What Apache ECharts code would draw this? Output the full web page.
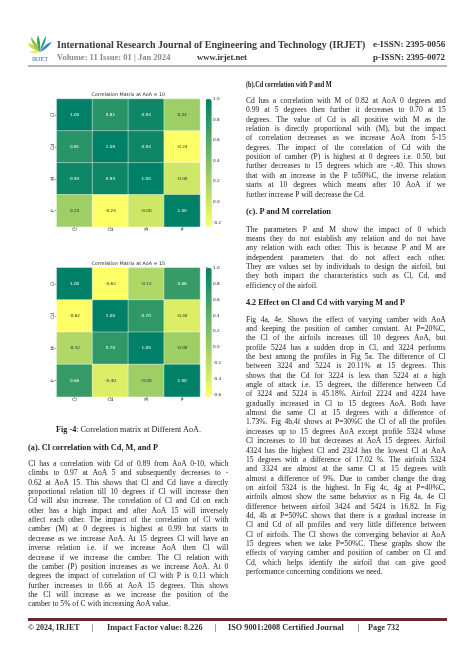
<!DOCTYPE html>
<html>
<head>
<meta charset="utf-8">
<script src="https://cdn.jsdelivr.net/npm/echarts@6/dist/echarts.min.js"></script>
<style>
html,body{margin:0;padding:0;background:#fff;}
#page{position:relative;width:474px;height:670px;overflow:hidden;background:#fff;}
#main{position:absolute;left:0;top:0;width:474px;height:670px;}
.t{position:absolute;font-family:'Liberation Serif',serif;font-size:7.6px;line-height:9.35px;color:#1c1c1c;white-space:nowrap;transform-origin:0 50%;}
.b{font-weight:bold;}
.hd{font-size:8px;}
#rule{position:absolute;left:28px;top:65px;width:419px;height:1.6px;background:#b4b4b4;}
#foot{position:absolute;left:28px;top:618px;width:419px;height:2.6px;background:#6e2431;}
#logo{position:absolute;left:27px;top:33px;}
</style>
</head>
<body>
<div id="page">
  <div id="main"></div>
  <svg id="logo" width="27" height="29" viewBox="0 0 27 29">
    <path d="M13 19 C 6 17, 2 13, 1 10 C 5 11, 10 14, 13 19 Z" fill="#c7d63a"/>
    <path d="M13 19 C 7 14, 4 9, 4 4 C 8 8, 11 13, 13 19 Z" fill="#8cc04a"/>
    <path d="M13 19 C 10 13, 9 7, 11 2 C 13 7, 14 13, 13 19 Z" fill="#3fa55a"/>
    <path d="M13 19 C 14 13, 16 7, 19 3 C 19 9, 16 14, 13 19 Z" fill="#2b9a8c"/>
    <path d="M13 19 C 16 14, 20 10, 25 9 C 22 13, 18 17, 13 19 Z" fill="#3a7fc2"/>
    <path d="M13 19 C 9 18, 5 18, 2 19 C 6 20, 10 20, 13 19 Z" fill="#e3d93a"/>
    <text x="13" y="27.5" text-anchor="middle" font-family="Liberation Serif" font-size="6.2" fill="#2f6fb5">IRJET</text>
  </svg>
  <div id="rule"></div>
  <div id="foot"></div>
</div>
<script>
// data
var cats = ['Cl', 'Cd', 'M', 'P'];
var corrAoA10 = [
  [1.00, 0.81, 0.93, 0.23],
  [0.81, 1.00, 0.93, -0.24],
  [0.93, 0.93, 1.00, -0.004],
  [0.23, -0.24, -0.004, 1.00]
];
var corrAoA15 = [
  [1.00, -0.62, -0.12, 0.66],
  [-0.62, 1.00, 0.70, -0.40],
  [-0.12, 0.70, 1.00, -0.004],
  [0.66, -0.40, -0.004, 1.00]
];
var cbTicks10 = [-0.2, 0, 0.2, 0.4, 0.6, 0.8, 1.0];
var cbTicks15 = [-0.6, -0.4, -0.2, 0, 0.2, 0.4, 0.6, 0.8, 1.0];
var chartTitles = ['Correlation Matrix at AoA = 10', 'Correlation Matrix at AoA = 15'];

var page = document.getElementById('page');

// place one line of text, stretch/shrink to the given width
function putText(txt, x, y, w, cls, justify) {
  var d = document.createElement('div');
  d.className = 't' + (cls ? ' ' + cls : '');
  d.textContent = txt;
  d.style.left = x + 'px';
  d.style.top = (y - 4.675) + 'px';
  page.appendChild(d);
  var nat = d.getBoundingClientRect().width;
  if (!w) return d;
  var n = (txt.match(/ /g) || []).length;
  if (nat > w) {
    d.style.transform = 'scaleX(' + (w / nat) + ')';
  } else if (justify && n > 0) {
    d.style.wordSpacing = ((w - nat) / n) + 'px';
  }
  return d;
}
function fitText(txt, x0, x1, y, cls, size) {
  var d = putText(txt, x0, y, 0, cls);
  if (size) d.style.fontSize = size + 'px';
  var nat = d.getBoundingClientRect().width;
  d.style.transform = 'scaleX(' + ((x1 - x0) / nat) + ')';
  return d;
}
function para(lines, x, y0, w) {
  for (var i = 0; i < lines.length; i++) {
    putText(lines[i], x, y0 + i * 9.35, w, '', i < lines.length - 1);
  }
}

// header
fitText('International Research Journal of Engineering and Technology (IRJET)', 57.3, 365.7, 44.3, 'b', 9.6).style.color = '#3a3a3a';
fitText('e-ISSN: 2395-0056', 372.7, 445, 44.3, 'b', 8).style.color = '#333';
var vol = fitText('Volume: 11 Issue: 01 | Jan 2024', 57.3, 170.7, 57.3, 'b', 7.8);
vol.style.color = '#8a8a8a';
fitText('www.irjet.net', 196.7, 246.7, 57.3, 'b', 7.8).style.color = '#333';
fitText('p-ISSN: 2395-0072', 373, 445, 57.3, 'b', 8).style.color = '#333';

// right column
fitText('(b).Cd correlation with P and M', 246, 331.7, 84.3, 'b hd');
para([
  'Cd has a correlation with M of 0.82 at AoA 0 degrees and',
  '0.99 at 5 degrees then further it decreases to 0.70 at 15',
  'degrees. The value of Cd is all positive with M as the',
  'relation is directly proportional with (M), but the impact',
  'of correlation decreases as we increase AoA from 5-15',
  'degrees. The impact of the correlation of Cd with the',
  'position of camber (P) is highest at 0 degrees i.e. 0.50, but',
  'further decreases to 15 degrees which are -.40. This shows',
  'that with an increase in the P to50%C, the inverse relation',
  'starts at 10 degrees which means after 10 AoA if we',
  'further increase P will decrease the Cd.'
], 246, 100.7, 199.7);
fitText('(c). P and M correlation', 246, 331, 211.7, 'b hd');
para([
  'The parameters P and M show the impact of 0 which',
  'means they do not establish any relation and do not have',
  'any relation with each other. This is because P and M are',
  'independent parameters that do not affect each other.',
  'They are values set by individuals to design the airfoil, but',
  'they both impact the characteristics such as Cl, Cd, and',
  'efficiency of the airfoil.'
], 246, 229.3, 199.7);
fitText('4.2 Effect on Cl and Cd with varying M and P', 246, 405, 302.7, 'b hd');
para([
  'Fig 4a, 4e. Shows the effect of varying camber with AoA',
  'and keeping the position of camber constant. At P=20%C,',
  'the Cl of the airfoils increases till 10 degrees AoA, but',
  'profile 5224 has a sudden drop in Cl, and 3224 performs',
  'the best among the profiles in Fig 5a. The difference of Cl',
  'between 3224 and 5224 is 20.11% at 15 degrees. This',
  'shows that the Cd for 3224 is less than 5224 at a high',
  'angle of attack i.e. 15 degrees, the difference between Cd',
  'of 3224 and 5224 is 45.18%. Airfoil 2224 and 4224 have',
  'gradually increased in Cl to 15 degrees AoA. Both have',
  'almost the same Cl at 15 degrees with a difference of',
  '1.73%. Fig 4b,4f shows at P=30%C the Cl of all the profiles',
  'increases up to 15 degrees AoA except profile 5324 whose',
  'Cl increases to 10 but decreases at AoA 15 degrees. Airfoil',
  '4324 has the highest Cl and 2324 has the lowest Cl at AoA',
  '15 degrees with a difference of 17.02 %. The airfoils 5324',
  'and 3324 are almost at the same Cl at 15 degrees with',
  'almost a difference of 9%. Due to camber change the drag',
  'on airfoil 5324 is the highest. In Fig 4c, 4g at P=40%C,',
  'airfoils almost show the same behavior as n Fig 4a, 4e Cl',
  'difference between airfoil 3424 and 5424 is 16.82. In Fig',
  '4d, 4h at P=50%C shows that there is a gradual increase in',
  'Cl and Cd of all profiles and very little difference between',
  'Cl of airfoils. The Cl shows the converging behavior at AoA',
  '15 degrees when we take P=50%C. These graphs show the',
  'effects of varying camber and position of camber on Cl and',
  'Cd, which helps identify the airfoil that can give good',
  'performance concerning conditions we need.'
], 246, 319.3, 199.7);

// left column
var cap = putText('', 56, 429.3, 0, '');
cap.innerHTML = '<b>Fig -4</b>: Correlation matrix at Different AoA.';
cap.style.transform = 'scaleX(' + (145 / cap.getBoundingClientRect().width) + ')';
fitText('(a).  Cl correlation with Cd, M, and P', 28.3, 158.3, 447.7, 'b hd');
para([
  'Cl has a correlation with Cd of 0.89 from AoA 0-10, which',
  'climbs to 0.97 at AoA 5 and subsequently decreases to -',
  '0.62 at AoA 15. This shows that Cl and Cd have a directly',
  'proportional relation till 10 degrees if Cl will increase then',
  'Cd will also increase. The correlation of Cl and Cd on each',
  'other has a high impact and after AoA 15 will inversely',
  'affect each other. The impact of the correlation of Cl with',
  'camber (M) at 0 degrees is highest at 0.99 but starts to',
  'decrease as we increase AoA. At 15 degrees Cl will have an',
  'inverse relation i.e. if we increase AoA then Cl will',
  'decrease if we increase the camber. The Cl relation with',
  'the camber (P) position increases as we increase AoA. At 0',
  'degrees the impact of correlation of Cl with P is 0.11 which',
  'further increases to 0.66 at AoA 15 degrees. This shows',
  'the Cl will increase as we increase the position of the',
  'camber to 5% of C with increasing AoA value.'
], 28.3, 463.7, 200);

// footer
fitText('\u00a9 2024, IRJET', 28.3, 80, 627.3, 'b', 8).style.color = '#333';
fitText('|', 92, 93.5, 627.3, 'b', 8).style.color = '#333';
fitText('Impact Factor value: 8.226', 106.7, 202.3, 627.3, 'b', 8).style.color = '#333';
fitText('|', 215, 216.5, 627.3, 'b', 8).style.color = '#333';
fitText('ISO 9001:2008 Certified Journal', 228.3, 344, 627.3, 'b', 8).style.color = '#333';
fitText('|', 357.5, 359, 627.3, 'b', 8).style.color = '#333';
fitText('Page 732', 367.7, 399, 627.3, 'b', 8).style.color = '#333';

// heatmaps (seaborn summer_r look)
function cellTextColor(v, lo, hi) {
  var t = (v - lo) / (hi - lo);
  var rgb = [255 * (1 - t), 255 - 127 * t, 102].map(function (c) {
    c = c / 255;
    return c <= 0.03928 ? c / 12.92 : Math.pow((c + 0.055) / 1.055, 2.4);
  });
  var lum = 0.2126 * rgb[0] + 0.7152 * rgb[1] + 0.0722 * rgb[2];
  return lum > 0.408 ? '#262626' : '#ffffff';
}
function cells(mat, lo, hi) {
  var out = [];
  for (var r = 0; r < mat.length; r++) {
    for (var c = 0; c < mat[r].length; c++) {
      out.push({ value: [c, r, mat[r][c]], label: { color: cellTextColor(mat[r][c], lo, hi) } });
    }
  }
  return out;
}
function matMin(mat) { return Math.min.apply(null, [].concat.apply([], mat)); }
function matMax(mat) { return Math.max.apply(null, [].concat.apply([], mat)); }

var lo10 = matMin(corrAoA10), hi10 = matMax(corrAoA10);
var lo15 = matMin(corrAoA15), hi15 = matMax(corrAoA15);

var boxes = [
  { left: 56.7, top: 99, width: 143.3, height: 127.7 },
  { left: 56.7, top: 267.7, width: 143.3, height: 129 }
];
var ranges = [[lo10, hi10], [lo15, hi15]];
var ticks = [cbTicks10, cbTicks15];
var mats = [corrAoA10, corrAoA15];

var grids = [], xAxes = [], yAxes = [], series = [], vms = [], titles = [];
var axisFont = { fontFamily: 'DejaVu Sans', fontSize: 4.6, color: '#262626' };

boxes.forEach(function (b, i) {
  var lo = ranges[i][0], hi = ranges[i][1];
  grids.push({ left: b.left, top: b.top, width: b.width, height: b.height });
  grids.push({ left: 205.7, top: b.top, width: 6, height: b.height });
  var g = i * 2;
  xAxes.push({
    type: 'category', data: cats, gridIndex: g, position: 'bottom',
    axisLine: { show: false }, splitLine: { show: false },
    axisTick: { show: true, alignWithLabel: true, length: 2, lineStyle: { color: '#333', width: 0.5 } },
    axisLabel: Object.assign({ margin: 0.5 }, axisFont)
  });
  yAxes.push({
    type: 'category', data: cats, gridIndex: g, inverse: true,
    axisLine: { show: false }, splitLine: { show: false },
    axisTick: { show: true, alignWithLabel: true, length: 2, lineStyle: { color: '#333', width: 0.5 } },
    axisLabel: Object.assign({ margin: 1, rotate: 90 }, axisFont)
  });
  xAxes.push({ type: 'value', gridIndex: g + 1, show: false });
  yAxes.push({
    type: 'value', gridIndex: g + 1, min: lo, max: hi, position: 'right',
    axisLine: { show: false }, splitLine: { show: false },
    axisTick: { show: true, length: 2, customValues: ticks[i], lineStyle: { color: '#333', width: 0.5 } },
    axisLabel: Object.assign({ margin: 1.2, customValues: ticks[i], formatter: function (v) { return v.toFixed(1); } }, axisFont, { fontSize: 4.2 })
  });
  series.push({
    type: 'heatmap', xAxisIndex: g, yAxisIndex: g,
    data: cells(mats[i], lo, hi),
    label: { show: true, fontFamily: 'DejaVu Sans', fontSize: 4.2, formatter: function (p) { return p.value[2].toFixed(2); } },
    itemStyle: { borderColor: 'rgba(255,255,255,0.85)', borderWidth: 0.5 },
    emphasis: { disabled: true }
  });
  vms.push({
    type: 'continuous', seriesIndex: i, dimension: 2, min: lo, max: hi,
    inRange: { color: ['#ffff66', '#008066'] },
    left: 205.7, top: b.top, itemWidth: 6, itemHeight: b.height,
    padding: 0, calculable: false, hoverLink: false, text: null
  });
  titles.push({
    text: chartTitles[i], left: b.left + b.width / 2, top: b.top - 6.7, textAlign: 'center', padding: 0,
    textStyle: { fontFamily: 'DejaVu Sans', fontSize: 4.8, fontWeight: 'normal', color: '#262626' }
  });
});

var myChart = echarts.init(document.getElementById('main'));
myChart.setOption({
  animation: false,
  title: titles,
  grid: grids,
  xAxis: xAxes,
  yAxis: yAxes,
  visualMap: vms,
  series: series
});
</script>
</body>
</html>
